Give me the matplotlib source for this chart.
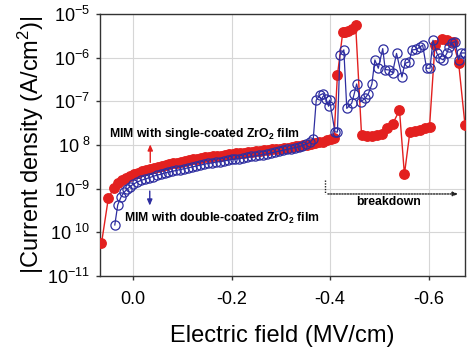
import matplotlib
matplotlib.use("Agg")
import matplotlib.pyplot as plt
import numpy as np

RED, BLUE, GRID = "#e3201f", "#2e2ea0", "#d6d6d6"

plt.rcParams.update({
    "font.family": ["Liberation Sans", "DejaVu Sans"],
    "mathtext.default": "regular",
    "axes.edgecolor": "#333333", "axes.linewidth": 1.0,
})

# single-coated ZrO2 film: field (MV/cm), log10 |J| (A/cm2)
single_field = [
    0.064, 0.050, 0.039, 0.030, 0.022, 0.014, 0.006, -0.002, -0.010, -0.018,
    -0.026, -0.034, -0.042, -0.050, -0.058, -0.066, -0.074, -0.082, -0.090, -0.098,
    -0.106, -0.114, -0.122, -0.130, -0.138, -0.146, -0.154, -0.162, -0.170, -0.178,
    -0.186, -0.194, -0.202, -0.210, -0.218, -0.226, -0.234, -0.242, -0.250, -0.258,
    -0.266, -0.274, -0.282, -0.290, -0.298, -0.306, -0.314, -0.322, -0.330, -0.338,
    -0.346, -0.354, -0.362, -0.370, -0.378, -0.386, -0.394, -0.402, -0.408,
    -0.415, -0.426, -0.430, -0.437, -0.444, -0.452, -0.464, -0.475, -0.485, -0.495,
    -0.505, -0.515, -0.527, -0.541, -0.551, -0.562, -0.573, -0.583, -0.593, -0.602,
    -0.613, -0.627, -0.637, -0.650, -0.661, -0.674,
]
single_logj = [
    -10.25, -9.21, -8.99, -8.88, -8.81, -8.76, -8.71, -8.67, -8.63, -8.60,
    -8.57, -8.55, -8.52, -8.50, -8.48, -8.46, -8.44, -8.42, -8.40, -8.38,
    -8.36, -8.34, -8.33, -8.31, -8.30, -8.28, -8.27, -8.26, -8.25, -8.24,
    -8.22, -8.21, -8.20, -8.19, -8.18, -8.17, -8.16, -8.15, -8.14, -8.13,
    -8.12, -8.11, -8.10, -8.09, -8.08, -8.07, -8.06, -8.04, -8.03, -8.02,
    -8.00, -7.99, -7.98, -7.96, -7.94, -7.92, -7.89, -7.86, -7.84,
    -6.40, -5.40, -5.40, -5.38, -5.33, -5.25, -7.77, -7.79, -7.79, -7.77,
    -7.75, -7.60, -7.52, -7.20, -8.67, -7.71, -7.68, -7.66, -7.62, -7.58,
    -5.71, -5.56, -5.60, -5.63, -6.11, -7.54,
]

# double-coated ZrO2 film
double_field = [
    0.037, 0.031, 0.024, 0.018, 0.012, 0.006, 0.000, -0.008, -0.016, -0.024,
    -0.032, -0.040, -0.048, -0.056, -0.064, -0.072, -0.080, -0.088, -0.096, -0.104,
    -0.112, -0.120, -0.128, -0.136, -0.144, -0.152, -0.160, -0.168, -0.176, -0.184,
    -0.192, -0.200, -0.208, -0.216, -0.224, -0.232, -0.240, -0.248, -0.256, -0.264,
    -0.272, -0.280, -0.288, -0.296, -0.304, -0.312, -0.320, -0.328, -0.336, -0.344,
    -0.352, -0.360, -0.366,
    -0.372, -0.380, -0.386, -0.392, -0.397, -0.399, -0.410, -0.415, -0.420, -0.428,
    -0.434, -0.444, -0.449, -0.454, -0.462, -0.471, -0.478, -0.485, -0.491, -0.498,
    -0.507, -0.512, -0.520, -0.527, -0.535, -0.546, -0.552, -0.561, -0.566, -0.575,
    -0.583, -0.588, -0.596, -0.603, -0.609, -0.617, -0.623, -0.630, -0.637, -0.642,
    -0.647, -0.654, -0.661, -0.665, -0.674,
]
double_logj = [
    -9.83, -9.37, -9.18, -9.08, -9.01, -8.95, -8.90, -8.85, -8.81, -8.78,
    -8.75, -8.72, -8.69, -8.67, -8.64, -8.62, -8.60, -8.58, -8.56, -8.54,
    -8.52, -8.50, -8.48, -8.46, -8.44, -8.42, -8.41, -8.39, -8.38, -8.36,
    -8.35, -8.33, -8.32, -8.31, -8.29, -8.28, -8.26, -8.25, -8.23, -8.22,
    -8.20, -8.18, -8.16, -8.14, -8.12, -8.10, -8.08, -8.06, -8.04, -8.01,
    -7.98, -7.93, -7.85,
    -6.97, -6.85, -6.82, -6.95, -7.11, -6.97, -7.70, -7.70, -5.94, -5.82,
    -7.16, -7.04, -6.83, -6.60, -7.01, -6.93, -6.82, -6.60, -6.05, -6.24,
    -5.79, -6.27, -6.28, -6.34, -5.90, -6.44, -6.13, -6.09, -5.82, -5.81,
    -5.75, -5.71, -6.24, -6.24, -5.60, -5.90, -6.01, -6.05, -5.90, -5.75,
    -5.66, -5.63, -6.04, -5.89, -5.89,
]

x_ticks = [0.0, -0.2, -0.4, -0.6]
x_ticklabels = ["0.0", "-0.2", "-0.4", "-0.6"]
y_ticks = [1e-5, 1e-6, 1e-7, 1e-8, 1e-9, 1e-10, 1e-11]
y_ticklabels = ["10$^{-5}$", "10$^{-6}$", "10$^{-7}$", "10$^{\\ 8}$",
                "10$^{-9}$", "10$^{\\ 10}$", "10$^{-11}$"]

fig = plt.figure(figsize=(4.74, 3.53), dpi=100)
ax = fig.add_axes([0.211, 0.218, 0.770, 0.742])

ax.plot(single_field, 10 ** np.array(single_logj), color=RED, lw=1.0,
        marker="o", ms=6.8, mfc=RED, mec=RED, zorder=3)
ax.plot(double_field, 10 ** np.array(double_logj), color=BLUE, lw=0.9,
        marker="o", ms=6.6, mfc="none", mec=BLUE, mew=0.9, zorder=4)

ax.set_yscale("log")
ax.set_ylim(1e-11, 1e-5)
ax.set_xlim(0.067, -0.674)
ax.set_xticks(x_ticks, x_ticklabels, fontsize=13)
ax.set_yticks(y_ticks, y_ticklabels, fontsize=13)
ax.minorticks_off()
ax.tick_params(length=3, width=1, color="#333333", pad=4)
ax.tick_params(axis="x", pad=8)
ax.grid(True, color=GRID, lw=0.8, zorder=0)
ax.set_axisbelow(True)

ax.set_xlabel("Electric field (MV/cm)", fontsize=17, labelpad=12)
ax.set_ylabel("|Current density (A/cm$^2$)|", fontsize=17, labelpad=1)

# annotations
ax.text(0.0485, 10 ** -7.75, "MIM with single-coated ZrO$_2$ film",
        fontsize=8.8, fontweight="bold", va="center", ha="left")
ax.annotate("", xy=(-0.035, 10 ** -7.92), xytext=(-0.035, 10 ** -8.46),
            arrowprops=dict(arrowstyle="-|>,head_width=0.15,head_length=0.35",
                            color=RED, lw=1.0))
ax.text(0.018, 10 ** -9.68, "MIM with double-coated ZrO$_2$ film",
        fontsize=8.8, fontweight="bold", va="center", ha="left")
ax.annotate("", xy=(-0.034, 10 ** -9.45), xytext=(-0.034, 10 ** -8.99),
            arrowprops=dict(arrowstyle="-|>,head_width=0.15,head_length=0.35",
                            color=BLUE, lw=1.0))

ax.plot([-0.390, -0.390], [10 ** -8.80, 10 ** -9.12], color="#222222",
        lw=1.0, ls=(0, (1, 1)))
ax.annotate("", xy=(-0.666, 10 ** -9.12), xytext=(-0.390, 10 ** -9.12),
            arrowprops=dict(arrowstyle="-|>,head_width=0.12,head_length=0.3",
                            color="#222222", lw=1.0, ls=(0, (1, 1))))
ax.text(-0.518, 10 ** -9.30, "breakdown", fontsize=8.8, fontweight="bold",
        ha="center", va="center")

fig.savefig("out.png", dpi=100)
